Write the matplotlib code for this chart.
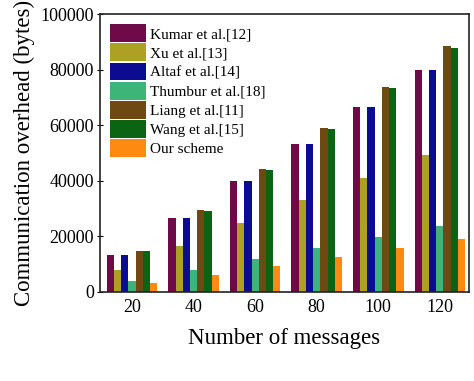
import matplotlib
matplotlib.use("Agg")
import matplotlib.pyplot as plt
import numpy as np

plt.rcParams['font.family'] = ['Liberation Serif', 'DejaVu Serif']

messages = [20, 40, 60, 80, 100, 120]
series_names = ["Kumar et al.[12]", "Xu et al.[13]", "Altaf et al.[14]",
                "Thumbur et al.[18]", "Liang et al.[11]", "Wang et al.[15]",
                "Our scheme"]
kumar = [13300, 26700, 40000, 53300, 66700, 80000]
xu = [8000, 16500, 24800, 33000, 41200, 49500]
altaf = [13300, 26700, 40000, 53300, 66700, 80000]
thumbur = [4000, 7800, 11800, 15800, 19800, 23600]
liang = [14700, 29400, 44200, 59000, 73700, 88400]
wang = [14600, 29300, 44000, 58700, 73300, 88000]
ours = [3200, 6300, 9500, 12600, 15800, 19000]
colors = ["#6E0A48", "#AEA022", "#0C0C92", "#3DB47A", "#6E4A12", "#0A6414", "#FF8A12"]

series = [kumar, xu, altaf, thumbur, liang, wang, ours]

fig = plt.figure(figsize=(4.74, 3.81), dpi=100)
ax = fig.add_axes([0.211, 0.2336, 0.778, 0.729])

w = 2.35
x = np.array(messages, dtype=float)
for i, (vals, name, c) in enumerate(zip(series, series_names, colors)):
    ax.bar(x + (i - 3) * w, vals, width=w, color=c, label=name, linewidth=0)

ax.set_xlim(9.6, 129.4)
ax.set_ylim(0, 100000)
ax.set_xticks(messages)
ax.set_yticks([0, 20000, 40000, 60000, 80000, 100000])
ax.tick_params(axis='x', length=0, labelsize=13, pad=5)
ax.tick_params(axis='y', direction='inout', length=5, labelsize=13, pad=2)
for s in ax.spines.values():
    s.set_linewidth(1.2)
    s.set_color('#222222')

ax.set_xlabel("Number of messages", fontsize=16.5, labelpad=9)
ax.set_ylabel("Communication overhead (bytes)", fontsize=16.5, labelpad=4)

ax.legend(loc='upper left', frameon=False, fontsize=11, handlelength=2.35,
          handleheight=1.43, labelspacing=0.08, handletextpad=0.3,
          borderaxespad=0.3, borderpad=0.35)

fig.savefig("out.png", dpi=100)
